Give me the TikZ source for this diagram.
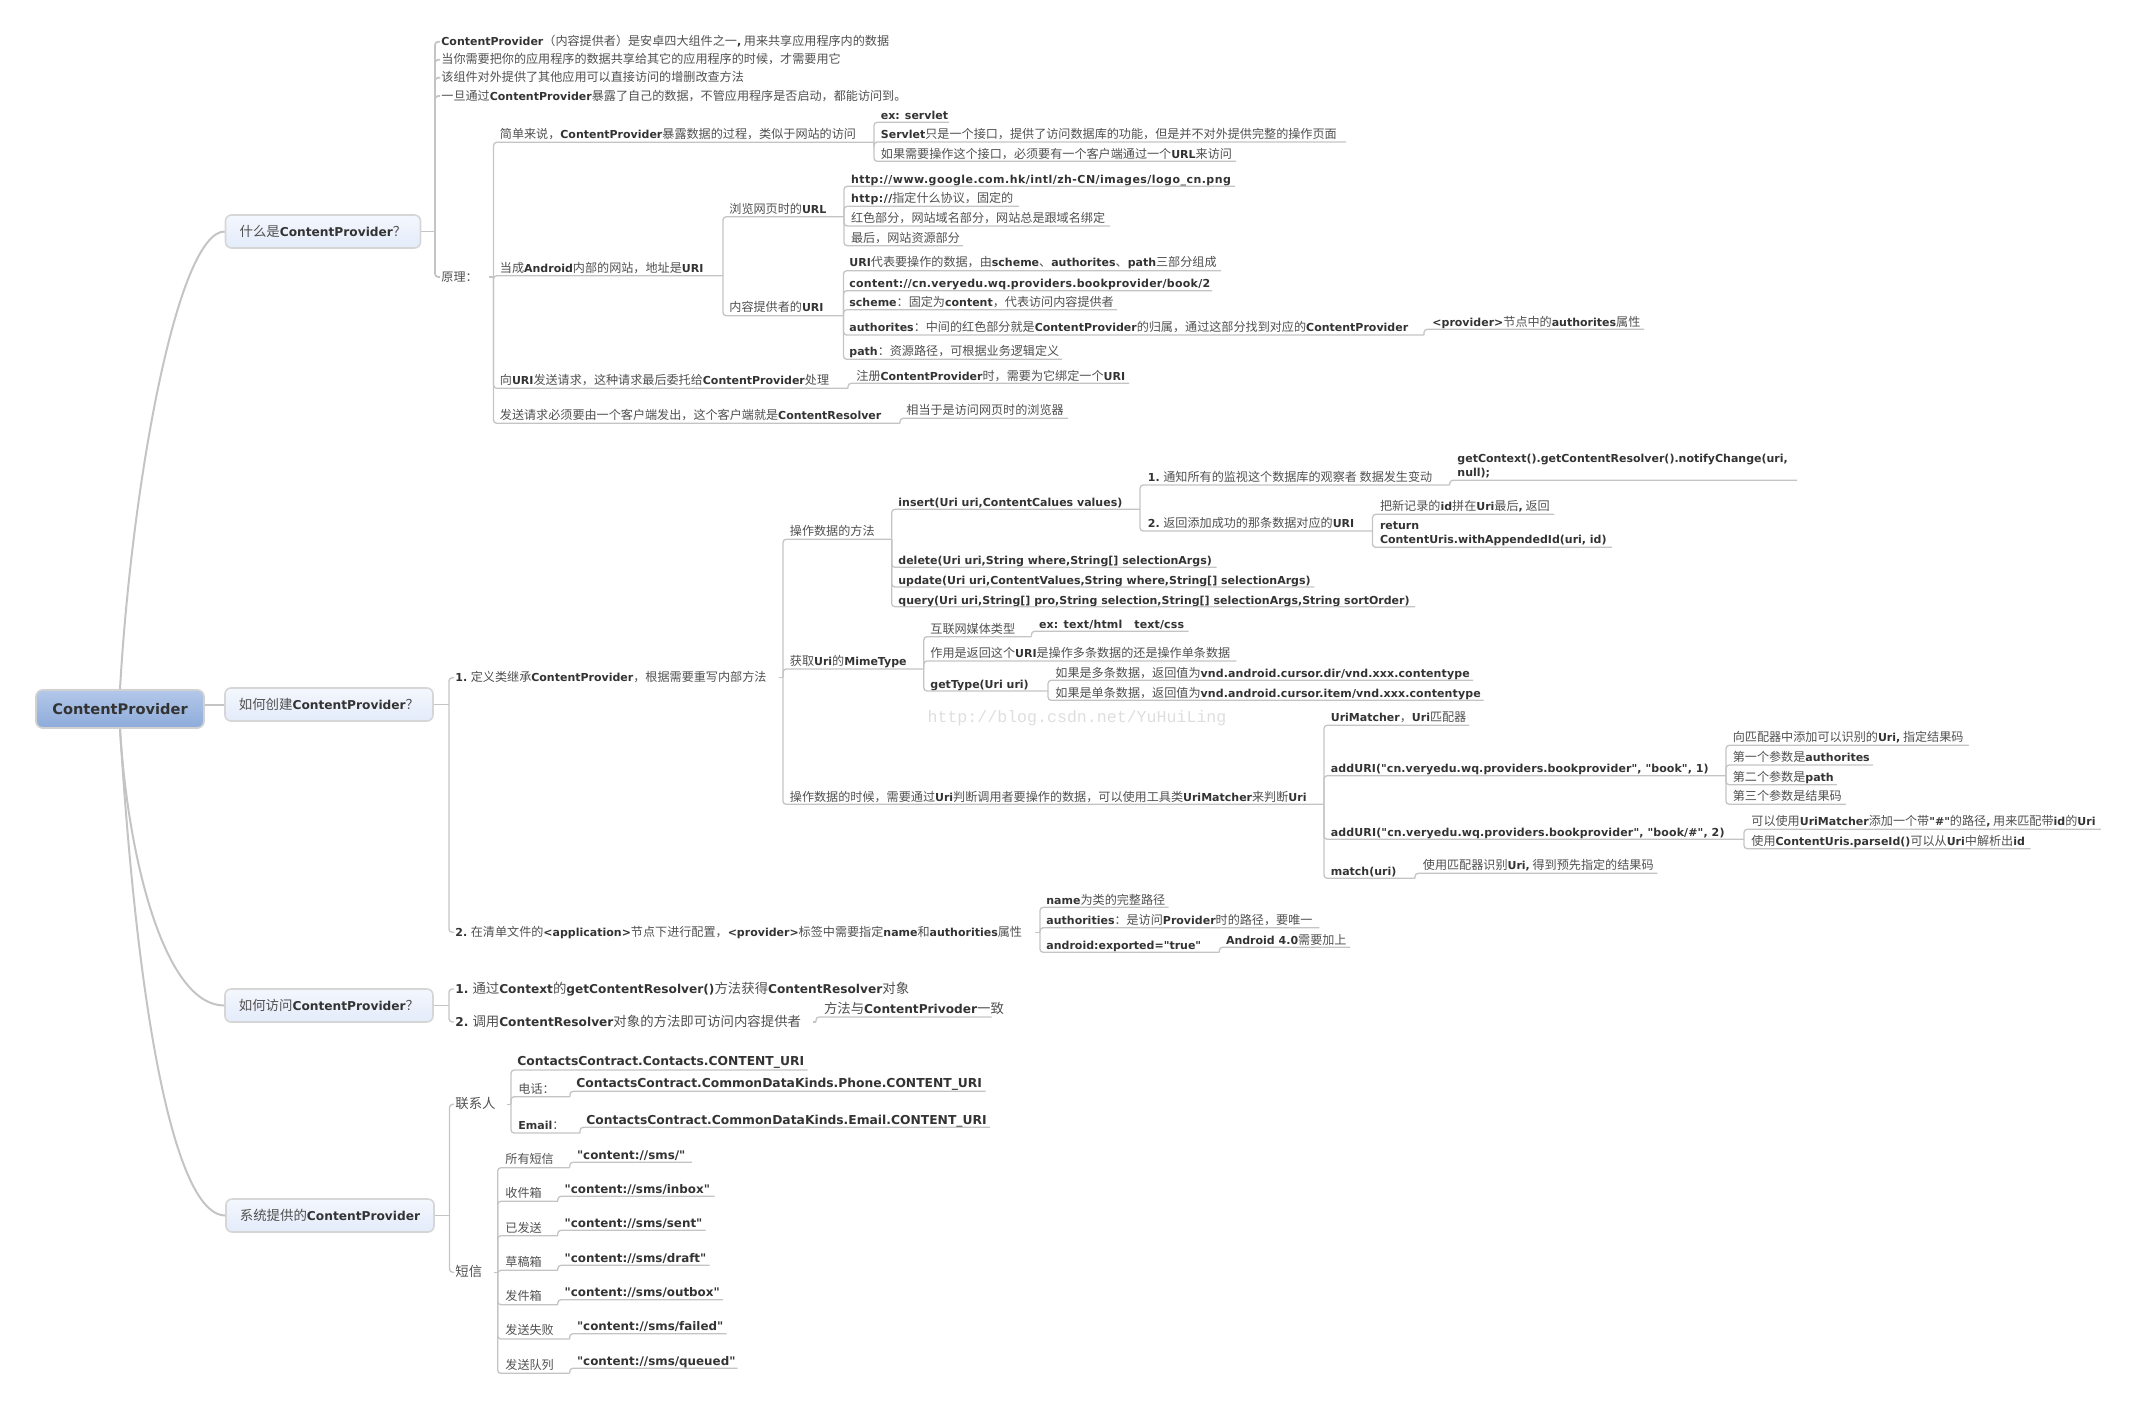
\documentclass[tikz,border=0pt]{standalone}
\usepackage{fontspec}
\setmainfont{Noto Sans CJK SC}[Scale=1.1]
\newfontfamily\lat{DejaVu Sans}
\newfontfamily\wmfont{Liberation Mono}
\definecolor{cjkc}{HTML}{505050}
\definecolor{latc}{HTML}{333333}
\definecolor{linec}{HTML}{C4C4C4}
\definecolor{rt}{HTML}{B3C8E9}
\definecolor{rb}{HTML}{8DABDA}
\definecolor{tt}{HTML}{F4F7FD}
\definecolor{tbm}{HTML}{E3EBFA}
\newcommand{\B}[1]{{\lat\bfseries\color{latc}#1}}
\newcommand{\Bs}[2]{{\lat\bfseries\addfontfeature{LetterSpace=#1}\color{latc}#2}}
\tikzset{
  t/.style={anchor=base west,inner sep=0pt,text=cjkc,align=left,font=\fontsize{5.5}{7}\selectfont},
  tm/.style={t,anchor=west},
  tb/.style={t,font=\fontsize{6.09}{7}\selectfont},
  tc/.style={t,font=\fontsize{6.16}{7}\selectfont},
  ts/.style={t,font=\fontsize{5.95}{7}\selectfont},
  link/.style={draw=linec,line width=0.65pt,rounded corners=1.6pt},
  thick link/.style={link,line width=0.85pt},
  curve/.style={draw=linec,line width=1pt},
  topic/.style={draw=black!16,line width=0.8pt,rounded corners=3pt,top color=tt,bottom color=tbm,
     minimum width=104pt,minimum height=16.5pt,inner sep=0pt,text=cjkc,align=center,font=\fontsize{6.1}{7}\selectfont},
  rootbox/.style={draw=black!18,line width=0.9pt,rounded corners=3.5pt,top color=rt,bottom color=rb,
     minimum width=84pt,minimum height=19pt,inner sep=0pt,font=\fontsize{7.3}{8}\selectfont},
}
% underlined topic: [style]{name}{x}{y centre}{x end}{y line}{text}
\newcommand{\T}[7][t]{\node[#1] (#2) at (#3,#4+4) {#7};\coordinate (#2-e) at (#5,#6);\coordinate (#2-o) at (#5,#6);}
% plain topic without underline
\newcommand{\N}[5][t]{\node[#1] (#2) at (#3,#4+4) {#5};\coordinate (#2-e) at (#3-1,#4);\coordinate (#2-o) at (#3-1,#4);}
% stub leaving a plain topic: {name}{x from}{x to}{y}
\newcommand{\St}[4]{\coordinate (#1-s) at (#2,#4);\coordinate (#1-o) at (#3,#4);\draw[link] (#1-s) -- (#1-o);}
% parent to children
\newcommand{\K}[3][link]{\foreach \kk in {#3}{\draw[#1] (#2-o) -- (#2-o |- \kk-e) -- (\kk-e);}}
\begin{document}
\begin{tikzpicture}[x=0.5pt,y=-0.5pt]
\useasboundingbox (0,0) rectangle (2135,1414);

% main boxes
\node[rootbox,text=latc] (root) at (120,709) {\B{ContentProvider}};
\node[topic,minimum width=97.5pt] (b1) at (323,231.5) {什么是\B{ContentProvider}？};
\node[topic] (b2) at (329,704.5) {如何创建\B{ContentProvider}？};
\node[topic] (b3) at (329,1005.5) {如何访问\B{ContentProvider}？};
\node[topic] (b4) at (330,1215.5) {系统提供的\B{ContentProvider}};
\draw[curve] (root.north) .. controls (132,480) and (178,231.5) .. (b1.west);
\draw[curve] (root.east |- b2.west) -- (b2.west);
\draw[curve] (root.south) .. controls (128,860) and (165,1005.5) .. (b3.west);
\draw[curve] (root.south) .. controls (140,1050) and (180,1215.5) .. (b4.west);
\coordinate (b1-o) at (435,231.5);
\coordinate (b2-o) at (449,704.5);
\coordinate (b3-o) at (449,1005.5);
\coordinate (b4-o) at (449.5,1215.5);
\draw[thick link] (b1.east) -- (b1-o);
\draw[link] (b2.east) -- (b2-o);
\draw[link] (b3.east) -- (b3-o);
\draw[link] (b4.east) -- (b4-o);

% what is
\N{a1}{441}{41.7}{\B{ContentProvider}（内容提供者）是安卓四大组件之一\B{,} 用来共享应用程序内的数据}
\N{a2}{441}{59.7}{当你需要把你的应用程序的数据共享给其它的应用程序的时候，才需要用它}
\N{a3}{441}{77.7}{该组件对外提供了其他应用可以直接访问的增删改查方法}
\N{a4}{441}{96}{一旦通过\B{ContentProvider}暴露了自己的数据，不管应用程序是否启动，都能访问到。}
\N{yl}{441}{277}{原理：}
\St{yl}{489}{493.5}{277}
\K[thick link]{b1}{a1,a2,a3,a4,yl}

\T{c1}{499.5}{134.7}{874}{142.3}{简单来说，\B{ContentProvider}暴露数据的过程，类似于网站的访问}
\T{c2}{499.5}{268}{723}{275.7}{当成\B{Android}内部的网站，地址是\B{URI}}
\T{c3}{499.5}{380.7}{848}{388.3}{向\B{URI}发送请求，这种请求最后委托给\B{ContentProvider}处理}
\T{c4}{499.5}{415}{900}{423.3}{发送请求必须要由一个客户端发出，这个客户端就是\B{ContentResolver}}
\K{yl}{c1,c2,c3,c4}

\T{d1}{880.5}{115}{949}{122.3}{\B{ex: servlet}}
\T{d2}{880.5}{134.3}{1346}{142}{\B{Servlet}只是一个接口，提供了访问数据库的功能，但是并不对外提供完整的操作页面}
\T{d3}{880.5}{154}{1236}{161.3}{如果需要操作这个接口，必须要有一个客户端通过一个\B{URL}来访问}
\K{c1}{d1,d2,d3}

\T{e1}{729}{209}{844}{216.7}{浏览网页时的\B{URL}}
\T{e2}{729}{307.7}{843.5}{315.7}{内容提供者的\B{URI}}
\K{c2}{e1,e2}

\T{f1}{850.6}{179.3}{1235}{186.3}{\Bs{4.2}{http://www.google.com.hk/intl/zh-CN/images/logo\_cn.png}}
\T{f2}{850.6}{198.7}{1019}{206.3}{\Bs{4}{http://}指定什么协议，固定的}
\T{f3}{850.6}{218.3}{1110}{226}{红色部分，网站域名部分，网站总是跟域名绑定}
\T{f4}{850.6}{238}{963}{245.7}{最后，网站资源部分}
\K{e1}{f1,f2,f3,f4}

\T{g1}{849}{262.7}{1221}{270.7}{\B{URI}代表要操作的数据，由\B{scheme}、\B{authorites}、\B{path}三部分组成}
\T{g2}{849}{283}{1212}{290.7}{\Bs{2.3}{content://cn.veryedu.wq.providers.bookprovider/book/2}}
\T{g3}{849}{302.3}{1117}{309.7}{\B{scheme}：固定为\B{content}，代表访问内容提供者}
\T{g4}{849}{327.3}{1424}{335}{\B{authorites}：中间的红色部分就是\B{ContentProvider}的归属，通过这部分找到对应的\B{ContentProvider}}
\T{g5}{849}{351.7}{1062}{359.3}{\B{path}：资源路径，可根据业务逻辑定义}
\K{e2}{g1,g2,g3,g4,g5}
\T{g6}{1432}{322.3}{1644}{329.3}{\B{<provider>}节点中的\B{authorites}属性}
\K{g4}{g6}
\T{h1}{856}{376.3}{1129}{383.3}{注册\B{ContentProvider}时，需要为它绑定一个\B{URI}}
\K{c3}{h1}
\T{h2}{906}{410.3}{1068}{418.3}{相当于是访问网页时的浏览器}
\K{c4}{h2}

% how to create
\N{i1}{455}{677.7}{\B{1.} 定义类继承\B{ContentProvider}，根据需要重写内部方法}
\St{i1}{778.5}{783}{677.5}
\N{i2}{455}{932.3}{\B{2.} 在清单文件的\B{<application>}节点下进行配置，\B{<provider>}标签中需要指定\B{name}和\B{authorities}属性}
\St{i2}{1035.4}{1040}{932.3}
\K{b2}{i1,i2}

\T{j1}{789.5}{531.7}{891.7}{539.3}{操作数据的方法}
\T{j2}{789.5}{661.3}{923.8}{669}{获取\B{Uri}的\B{MimeType}}
\T{j3}{789.5}{797}{1324}{804.3}{操作数据的时候，需要通过\B{Uri}判断调用者要操作的数据，可以使用工具类\B{UriMatcher}来判断\B{Uri}}
\K{i1}{j1,j2,j3}

\T{k1}{898}{502.7}{1140}{509.3}{\B{insert(Uri uri,ContentCalues values)}}
\T{k2}{898}{560.3}{1216.7}{567.3}{\B{delete(Uri uri,String where,String[] selectionArgs)}}
\T{k3}{898}{580}{1314.4}{587}{\B{update(Uri uri,ContentValues,String where,String[] selectionArgs)}}
\T{k4}{898}{600}{1415}{606.7}{\B{query(Uri uri,String[] pro,String selection,String[] selectionArgs,String sortOrder)}}
\K{j1}{k1,k2,k3,k4}

\T{l1}{1147.5}{477.3}{1449.7}{485}{\B{1.} 通知所有的监视这个数据库的观察者 数据发生变动}
\T{l2}{1147.5}{523.7}{1372.5}{531}{\B{2.} 返回添加成功的那条数据对应的\B{URI}}
\K{k1}{l1,l2}
\T[tm]{m1}{1457}{462.3}{1797}{480.3}{\B{getContext().getContentResolver().notifyChange(uri,}\\\B{null);}}
\K{l1}{m1}
\T{m2}{1379.6}{506.7}{1554}{514.3}{把新记录的\B{id}拼在\B{Uri}最后\B{,} 返回}
\T[tm]{m3}{1379.6}{529.7}{1612}{547.3}{\B{return}\\\B{ContentUris.withAppendedId(uri, id)}}
\K{l2}{m2,m3}

\T{n1}{930}{629}{1031.4}{636.7}{互联网媒体类型}
\T{n2}{930}{653.3}{1236.3}{661}{作用是返回这个\B{URI}是操作多条数据的还是操作单条数据}
\T{n3}{930}{684}{1048}{691}{\B{getType(Uri uri)}}
\K{j2}{n1,n2,n3}
\T{n4}{1038.6}{624.7}{1188.5}{631.3}{\Bs{1.5}{ex: text/html \ \ text/css}}
\K{n1}{n4}
\T{n5}{1055}{673.3}{1473}{680.3}{如果是多条数据，返回值为\Bs{1}{vnd.android.cursor.dir/vnd.xxx.contentype}}
\T{n6}{1055}{693.3}{1483.5}{700.3}{如果是单条数据，返回值为\Bs{1}{vnd.android.cursor.item/vnd.xxx.contentype}}
\K{n3}{n5,n6}

\T{o1}{1330.4}{717.7}{1469.3}{725.3}{\B{UriMatcher}，\B{Uri}匹配器}
\T{o2}{1330.4}{768}{1726}{775.7}{\Bs{0.8}{addURI("cn.veryedu.wq.providers.bookprovider", "book", 1)}}
\T{o3}{1330.4}{832.3}{1744}{839.3}{\Bs{1.2}{addURI("cn.veryedu.wq.providers.bookprovider", "book/\#", 2)}}
\T{o4}{1330.4}{871.3}{1415}{878.3}{\B{match(uri)}}
\K{j3}{o1,o2,o3,o4}
\T{p1}{1732.4}{737.7}{1968.8}{745.3}{向匹配器中添加可以识别的\B{Uri}\B{,} 指定结果码}
\T{p2}{1732.4}{757.3}{1873}{765}{第一个参数是\B{authorites}}
\T{p3}{1732.4}{777}{1836.8}{784.7}{第二个参数是\B{path}}
\T{p4}{1732.4}{796.7}{1845.8}{804.3}{第三个参数是结果码}
\K{o2}{p1,p2,p3,p4}
\T{q1}{1751}{821.7}{2100.9}{829.3}{可以使用\B{UriMatcher}添加一个带\B{"\#"}的路径\B{,} 用来匹配带\B{id}的\B{Uri}}
\T{q2}{1751}{841.3}{2030.6}{848.7}{使用\B{ContentUris.parseId()}可以从\B{Uri}中解析出\B{id}}
\K{o3}{q1,q2}
\T{q3}{1422.5}{865.7}{1657.3}{873.3}{使用匹配器识别\B{Uri}\B{,} 得到预先指定的结果码}
\K{o4}{q3}

\T{r1}{1046}{900}{1168.5}{907.3}{\B{name}为类的完整路径}
\T{r2}{1046}{920}{1319.3}{927.7}{\B{authorities}：是访问\B{Provider}时的路径，要唯一}
\T{r3}{1046}{945}{1219.3}{952.3}{\B{android:exported="true"}}
\K{i2}{r1,r2,r3}
\T{r4}{1225.6}{940}{1350}{947.3}{\B{Android 4.0}需要加上}
\K{r3}{r4}

% how to access
\N[tb]{s1}{455}{989}{\B{1.} 通过\B{Context}的\B{getContentResolver()}方法获得\B{ContentResolver}对象}
\N[tb]{s2}{455}{1022}{\B{2.} 调用\B{ContentResolver}对象的方法即可访问内容提供者}
\St{s2}{813}{816}{1022}
\K{b3}{s1,s2}
\T[tb]{s3}{823.6}{1009.3}{991.5}{1017}{方法与\B{ContentPrivoder}一致}
\K{s2}{s3}

% system providers
\N[tb]{u1}{455}{1104.3}{联系人}
\St{u1}{507}{511}{1104.3}
\N[tb]{u2}{455}{1272.3}{短信}
\St{u2}{494}{497.7}{1272.3}
\K{b4}{u1,u2}

\T[tc]{v1}{517}{1061.7}{807.7}{1070}{\B{ContactsContract.Contacts.CONTENT\_URI}}
\T{v2}{518}{1089.3}{570}{1096.7}{电话：}
\T{v3}{518}{1125.7}{580}{1133}{\B{Email}：}
\K{u1}{v1,v2,v3}
\T[tc]{v4}{576}{1083.7}{985.5}{1091.3}{\B{ContactsContract.CommonDataKinds.Phone.CONTENT\_URI}}
\K{v2}{v4}
\T[tc]{v5}{586}{1120}{990}{1127.3}{\B{ContactsContract.CommonDataKinds.Email.CONTENT\_URI}}
\K{v3}{v5}

\T{w1}{505}{1159.3}{569.7}{1167.7}{所有短信}
\T{w2}{505}{1193.7}{557.8}{1201.3}{收件箱}
\T{w3}{505}{1228}{557.8}{1235.7}{已发送}
\T{w4}{505}{1262.3}{557.8}{1270.3}{草稿箱}
\T{w5}{505}{1296.7}{557.8}{1304.7}{发件箱}
\T{w6}{505}{1330.7}{569.7}{1339}{发送失败}
\T{w7}{505}{1365.3}{569.7}{1373.3}{发送队列}
\K{u2}{w1,w2,w3,w4,w5,w6,w7}
\T[ts]{x1}{576.6}{1155}{691.8}{1162.3}{\B{"content://sms/"}}
\T[ts]{x2}{564.3}{1189.3}{714.7}{1196.3}{\B{"content://sms/inbox"}}
\T[ts]{x3}{564.3}{1223.7}{705.5}{1230.3}{\B{"content://sms/sent"}}
\T[ts]{x4}{564.3}{1258}{709.7}{1265.3}{\B{"content://sms/draft"}}
\T[ts]{x5}{564.3}{1292.3}{722.8}{1299.7}{\B{"content://sms/outbox"}}
\T[ts]{x6}{576.6}{1326.3}{726.6}{1333.7}{\B{"content://sms/failed"}}
\T[ts]{x7}{576.6}{1361}{737.7}{1368.3}{\B{"content://sms/queued"}}
\K{w1}{x1}\K{w2}{x2}\K{w3}{x3}\K{w4}{x4}\K{w5}{x5}\K{w6}{x6}\K{w7}{x7}

% watermark
\node[inner sep=0pt,text=black!13,font=\wmfont\fontsize{8.3}{10}\selectfont] (wm) at (1077,717.7) {http://blog.csdn.net/YuHuiLing};
\end{tikzpicture}
\end{document}
